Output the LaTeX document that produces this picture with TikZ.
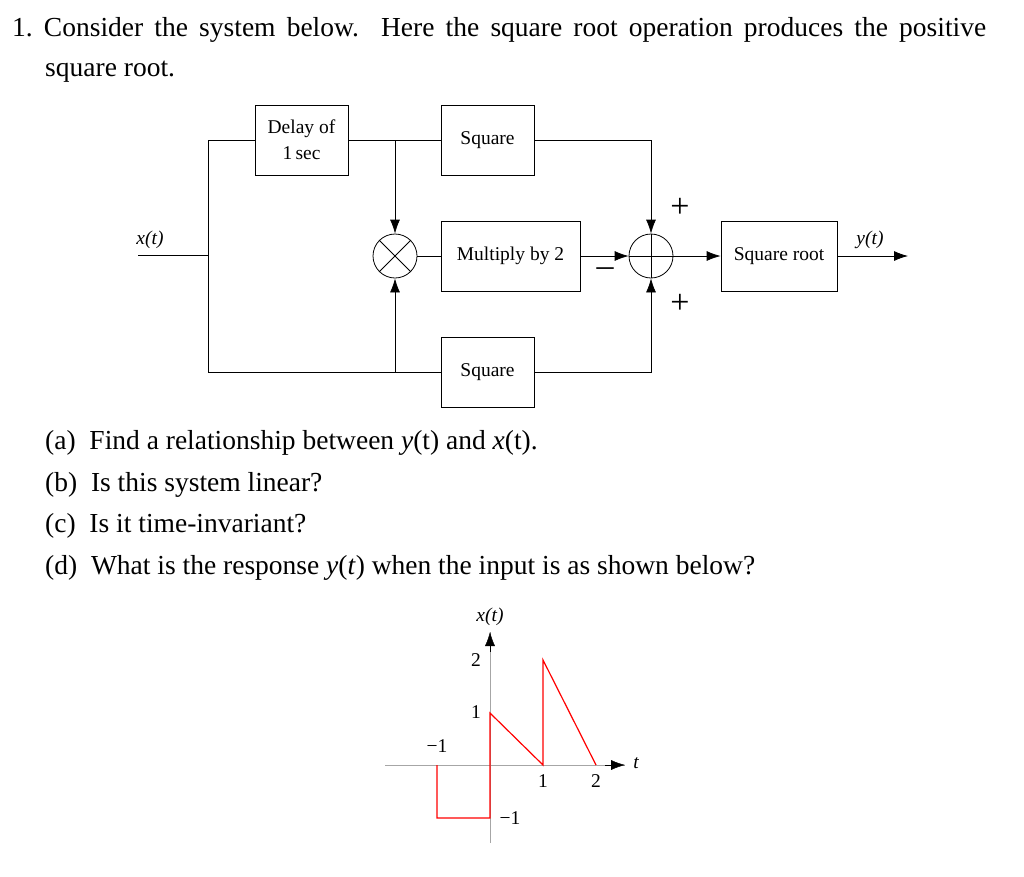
\documentclass[tikz,border=0pt]{standalone}
\usepackage{fontspec}
\setmainfont{Liberation Serif}
\usetikzlibrary{arrows.meta}
\begin{document}
\begin{tikzpicture}[x=1pt,y=-1pt,
  blk/.style={draw,thick,minimum width=0,inner sep=0,font=\fontsize{19.5}{26}\selectfont,align=center},
  ln/.style={thick},
  ar/.style={thick,-{Latex[length=14pt,width=10pt]}},
  big/.style={font=\fontsize{27.5}{32}\selectfont,anchor=west,inner sep=0},
  sm/.style={font=\fontsize{19.5}{22}\selectfont,inner sep=0}]
\useasboundingbox (0,0) rectangle (1024,876);
\node[big] (l1) at (12,30) {\hbox to 974pt{1.\ Consider the system below. Here the square root operation produces the positive}};
\node[big] (l2) at (45,72) {square root.};
% blocks
\node[blk,minimum width=93pt,minimum height=70pt] (delay) at (301.5,140) {Delay of\\1\,sec};
\node[blk,minimum width=93pt,minimum height=70pt] (sq1) at (487.5,140) {Square};
\node[blk,minimum width=93pt,minimum height=70pt] (sq2) at (487.5,372) {Square};
\node[blk,minimum width=139pt,minimum height=70pt] (mul) at (510.5,256) {Multiply by 2};
\node[blk,minimum width=116pt,minimum height=70pt] (sqr) at (779,256) {Square root};
\node[draw,thick,circle,minimum size=44pt,inner sep=0] (mc) at (395,256) {};
\draw[thick] (mc.north west)--(mc.south east) (mc.north east)--(mc.south west);
\node[draw,thick,circle,minimum size=44pt,inner sep=0] (sc) at (651,256) {};
\draw[thick] (sc.north)--(sc.south) (sc.west)--(sc.east);
\coordinate (in) at (138,255);
\coordinate (out) at (908,256);
\coordinate (j1) at (208,255);
\coordinate (tl) at (208,140);
\coordinate (bl) at (208,372);
\coordinate (bt) at (395,140);
\coordinate (bb) at (395,372);
\coordinate (tr) at (651,140);
\coordinate (br) at (651,372);
\draw[ln] (in)--(j1) (tl)--(bl) (tl)--(delay.west) (delay.east)--(sq1.west) (bl)--(sq2.west);
\draw[ar] (bt)--(mc.north);
\draw[ar] (bb)--(mc.south);
\draw[ln] (mc.east)--(mul.west);
\draw[ar] (mul.east)--(sc.west);
\draw[ar] (sq1.east)--(tr)--(sc.north);
\draw[ar] (sq2.east)--(br)--(sc.south);
\draw[ar] (sc.east)--(sqr.west);
\draw[ar] (sqr.east)--(out);
\node[sm] (xl) at (150,240) {\itshape x(t)};
\node[sm] (yl) at (870,240) {\itshape y(t)};
\node[font=\fontsize{34}{36}\selectfont,inner sep=0] (p1) at (680,208) {+};
\node[font=\fontsize{34}{36}\selectfont,inner sep=0] (p2) at (680,304) {+};
\node[font=\fontsize{34}{36}\selectfont,inner sep=0] (m1) at (605,272) {\textendash};
% questions
\node[big] (qa) at (45,443) {(a)\ \ Find a relationship between \textit{y}(t) and \textit{x}(t).};
\node[big] (qb) at (45,485) {(b)\ \ Is this system linear?};
\node[big] (qc) at (45,526) {(c)\ \ Is it time-invariant?};
\node[big] (qd) at (45,568) {(d)\ \ What is the response \textit{y}(\textit{t}) when the input is as shown below?};
% graph
\coordinate (xa) at (385,765);
\coordinate (xb) at (625,765);
\coordinate (ya) at (490,843);
\coordinate (yb) at (490,632);
\draw[gray!70,thick] (xa)--(xb);
\draw[gray!70,thick] (ya)--(yb);
\draw[-{Latex[length=14pt,width=10pt]},black] (605,765)--(xb);
\draw[-{Latex[length=14pt,width=10pt]},black] (490,652)--(yb);
\draw[red,very thick] (437,765)--(437,818)--(490,818)--(490,713)--(543,765)--(543,660)--(596,765);
\node[sm] (gx) at (490,617) {\itshape x(t)};
\node[sm] (gt) at (636,763) {\itshape t};
\node[sm] (g2) at (476,660) {2};
\node[sm] (g1) at (476,712) {1};
\node[sm] (gm1) at (437,746) {\textminus1};
\node[sm] (gt1) at (543,781) {1};
\node[sm] (gt2) at (596,781) {2};
\node[sm] (gym) at (510,818) {\textminus1};
\end{tikzpicture}
\end{document}
